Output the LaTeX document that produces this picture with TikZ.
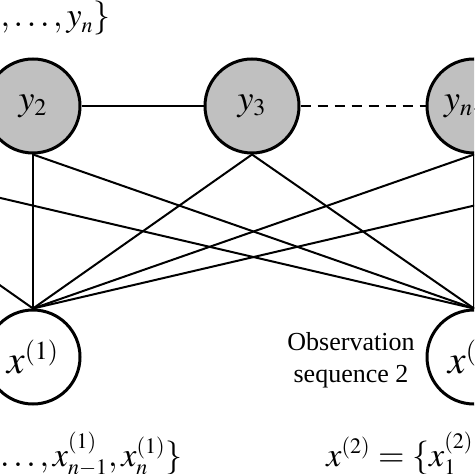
\documentclass[tikz,border=0pt]{standalone}
\usepackage{mathptmx}
\usepackage{fontspec}
\setmainfont{Liberation Serif}
\usepackage{tikz}
\usetikzlibrary{positioning}
\definecolor{stategray}{RGB}{192, 192, 192}
\DeclareMathSizes{17}{17}{11}{8}
\DeclareMathSizes{18}{18}{12}{9}
\DeclareMathSizes{20}{20}{13}{9}

\begin{document}
\begin{tikzpicture}[x=0.5pt, y=-0.5pt,
    hidden/.style={circle, draw, line width=1.5pt, fill=stategray, minimum size=47pt, inner sep=0pt, font=\fontsize{18}{20}\selectfont},
    observed/.style={circle, draw, line width=1.5pt, fill=white, minimum size=47pt, inner sep=0pt, font=\fontsize{20}{22}\selectfont},
    link/.style={line width=1pt},
    seqset/.style={inner sep=0pt, font=\fontsize{17}{20}\selectfont}]
  \useasboundingbox (0,0) rectangle (474,474);
  \clip (0,0) rectangle (474,474);

  % hidden state chain
  \node[hidden] (y1) at (-186,106) {$y_1$};
  \node[hidden] (y2) at (33,106) {$y_2$};
  \node[hidden] (y3) at (252,106) {$y_3$};
  \node[hidden] (ynm) at (474,106) {$y_{n-1}$};
  \node[hidden] (yn) at (693,106) {$y_n$};

  % observation sequences
  \node[observed] (x1) at (33,357) {$x^{(1)}$};
  \node[observed] (x2) at (474,357) {$x^{(2)}$};
  \node[align=center, inner sep=0pt, font=\fontsize{13}{16}\selectfont] (obs2) at (351,360) {Observation\\sequence 2};

  \draw[link] (y1) -- (y2);
  \draw[link] (y2) -- (y3);
  \draw[link, dash pattern=on 5pt off 3.5pt] (y3) -- (ynm);
  \draw[link] (ynm) -- (yn);
  \foreach \s in {y1, y2, y3, ynm, yn}
    \foreach \o in {x1, x2}
      \draw[link] (\s.south) -- (\o.north);

  \node[seqset, anchor=base east] (yset) at (111,27) {$y=\{y_1,\ldots,y_n\}$};
  \node[seqset, anchor=base east] (x1set) at (183,466) {$x^{(1)}=\{x_1^{(1)},\ldots,x_{n-1}^{(1)},x_n^{(1)}\}$};
  \node[seqset, anchor=base west] (x2set) at (326,466) {$x^{(2)}=\{x_1^{(2)},\ldots,x_{n-1}^{(2)},x_n^{(2)}\}$};
\end{tikzpicture}
\end{document}
